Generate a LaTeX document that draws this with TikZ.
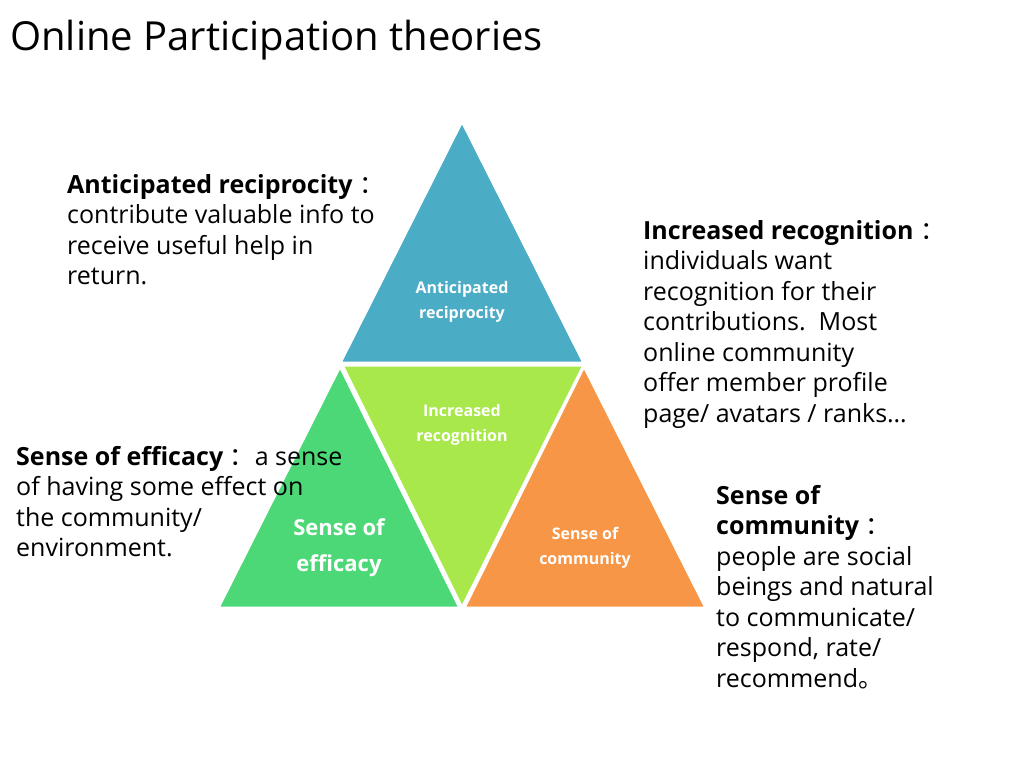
\documentclass[tikz,border=0pt]{standalone}
\usepackage{fontspec}
\setmainfont{Open Sans}
\newfontfamily\cjk{Noto Sans CJK SC}
\begin{document}
\begin{tikzpicture}[x=1pt,y=-1pt,
  tri/.style={draw=white,line width=3pt,line join=miter},
  body/.style={anchor=north west,align=left,inner sep=0pt,font=\fontsize{25}{30.5}\selectfont},
  lab/.style={white,font=\bfseries\fontsize{16}{25}\selectfont,align=center}]
\useasboundingbox (0,0) rectangle (1024,768);
\fill[white] (0,0) rectangle (1024,768);
\fill[tri,fill={rgb,255:red,75;green,172;blue,198}] (462,121) -- (584,363) -- (340,363) -- cycle;
\fill[tri,fill={rgb,255:red,168;green,232;blue,74}] (342,365) -- (584,365) -- (462,608) -- cycle;
\fill[tri,fill={rgb,255:red,76;green,216;blue,118}] (340,366) -- (460,608) -- (218,608) -- cycle;
\fill[tri,fill={rgb,255:red,247;green,150;blue,70}] (584,366) -- (706,608) -- (464,608) -- cycle;
\node[lab] (la) at (462,302) {Anticipated\\reciprocity};
\node[lab] (lr) at (462,425) {Increased\\recognition};
\node[lab,font=\bfseries\fontsize{22}{36}\selectfont] (le) at (339,548) {Sense of\\efficacy};
\node[lab] (lc) at (585,548) {Sense of\\community};
\node[anchor=west,inner sep=0pt,font=\fontsize{40}{44}\selectfont] (title) at (10,40) {Online Participation theories};
\node[body] (ta) at (67,174) {\textbf{Anticipated reciprocity} {\cjk ：}\\contribute valuable info to\\receive useful help in\\return.};
\node[body] (tr) at (643,220) {\textbf{Increased recognition} {\cjk ：}\\individuals want\\recognition for their\\contributions.\ \ Most\\online community\\offer member profile\\page/ avatars / ranks…};
\node[body] (te) at (16,446) {\textbf{Sense of efficacy} {\cjk ：}a sense\\of having some effect on\\the community/\\environment.};
\node[body] (tc) at (716,485) {\textbf{Sense of}\\\textbf{community} {\cjk ：}\\people are social\\beings and natural\\to communicate/\\respond, rate/\\recommend{\cjk 。}};
\end{tikzpicture}
\end{document}
